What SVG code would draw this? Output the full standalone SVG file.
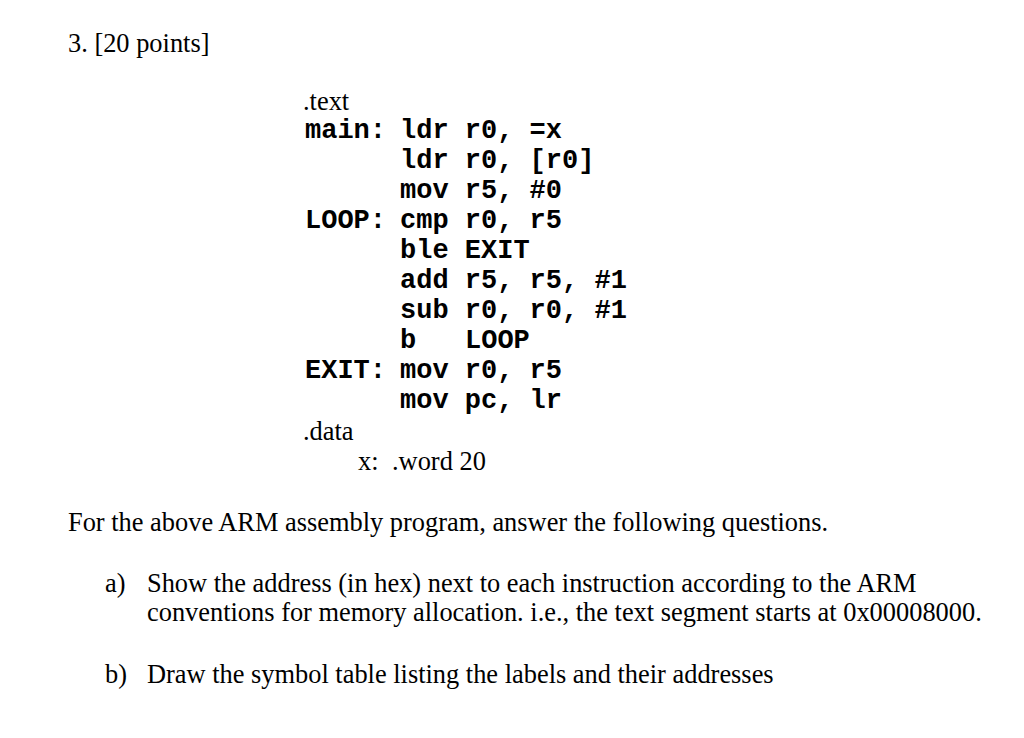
<svg xmlns="http://www.w3.org/2000/svg" width="1024" height="738" viewBox="0 0 1024 738">
<style>
.s{font-family:"Liberation Serif","Times New Roman",serif;font-size:26.4px;fill:#000}
.c{font-family:"Liberation Mono","Courier New",Courier,monospace;font-size:27px;font-weight:bold;fill:#000}
</style>
<rect width="1024" height="738" fill="#fff"/>
<text class="s" x="68" y="52">3. [20 points]</text>
<text class="s" x="303" y="110">.text</text>
<g class="c">
<text x="305" y="138">main:</text><text x="400" y="138">ldr r0, =x</text>
<text x="400" y="168">ldr r0, [r0]</text>
<text x="400" y="198">mov r5, #0</text>
<text x="305" y="228">LOOP:</text><text x="400" y="228">cmp r0, r5</text>
<text x="400" y="258">ble EXIT</text>
<text x="400" y="288">add r5, r5, #1</text>
<text x="400" y="318">sub r0, r0, #1</text>
<text x="400" y="348">b</text><text x="465" y="348">LOOP</text>
<text x="305" y="378">EXIT:</text><text x="400" y="378">mov r0, r5</text>
<text x="400" y="408">mov pc, lr</text>
</g>
<text class="s" x="303" y="440">.data</text>
<text class="s" x="358" y="470">x:</text><text class="s" x="392" y="470">.word 20</text>
<text class="s" x="68" y="531">For the above ARM assembly program, answer the following questions.</text>
<text class="s" x="105" y="592">a)</text>
<text class="s" x="147" y="592">Show the address (in hex) next to each instruction according to the ARM</text>
<text class="s" x="147" y="621">conventions for memory allocation. i.e., the text segment starts at 0x00008000.</text>
<text class="s" x="105" y="683">b)</text>
<text class="s" x="147" y="683">Draw the symbol table listing the labels and their addresses</text>
</svg>
